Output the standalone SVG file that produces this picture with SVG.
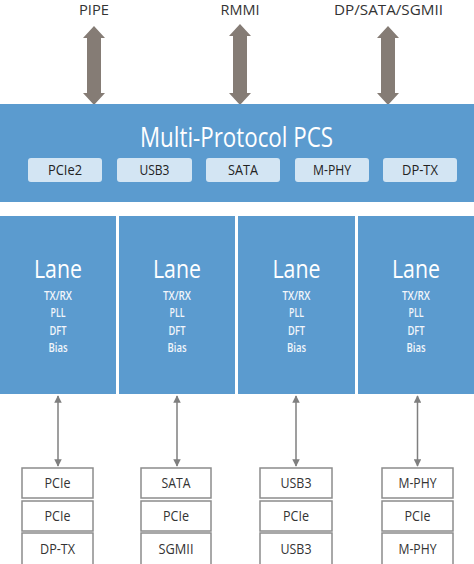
<svg xmlns="http://www.w3.org/2000/svg" width="474" height="564" viewBox="0 0 474 564">
<style>
.blue{fill:#5b9bcf}
.sub{fill:#d3e5f3}
.box{fill:#fff;stroke:#8c8c8c;stroke-width:1.5}
.t{font-family:"Open Sans","Noto Sans","Liberation Sans",sans-serif;text-anchor:middle}
.top{font-size:14px;fill:#333}
.title{font-size:27px;fill:#fff}
.st{font-size:14px;fill:#222}
.lane{font-size:26px;fill:#fff}
.ll{font-size:12.5px;fill:#f2f6fb;font-weight:600}
.bt{font-size:15px;fill:#333}
.thin{stroke:#7f7f7f;stroke-width:1.5;fill:none;marker-start:url(#ah);marker-end:url(#ah)}
.big{fill:#857c75}
</style>
<defs>
<marker id="ah" viewBox="0 0 10 10" refX="9" refY="5" markerWidth="5" markerHeight="5" orient="auto-start-reverse" markerUnits="strokeWidth">
<path d="M0,0 L10,5 L0,10 Z" fill="#7f7f7f"/>
</marker>
</defs>

<g id="labels">
<text class="t top" x="94" y="15" textLength="30" lengthAdjust="spacingAndGlyphs">PIPE</text>
<text class="t top" x="240" y="15" textLength="39" lengthAdjust="spacingAndGlyphs">RMMI</text>
<text class="t top" x="388.5" y="15" textLength="109" lengthAdjust="spacingAndGlyphs">DP/SATA/SGMII</text>
</g>

<g id="connectors">
<polygon class="big" points="94,26 105,38 101,38 101,93 105,93 94,105 83,93 87,93 87,38 83,38"/>
<polygon class="big" points="240,24 251,36 247,36 247,93 251,93 240,105 229,93 233,93 233,36 229,36"/>
<polygon class="big" points="388,26 399,38 395,38 395,93 399,93 388,105 377,93 381,93 381,38 377,38"/>
<line class="thin" x1="58" y1="396" x2="58" y2="466"/>
<line class="thin" x1="177" y1="396" x2="177" y2="466"/>
<line class="thin" x1="296" y1="396" x2="296" y2="466"/>
<line class="thin" x1="417.5" y1="396" x2="417.5" y2="466"/>
</g>

<g id="pcs">
<rect class="blue" x="0" y="104" width="474" height="98"/>
<text class="t title" x="236.5" y="147" textLength="193" lengthAdjust="spacingAndGlyphs">Multi-Protocol PCS</text>
<rect class="sub" x="28" y="158" width="74" height="24" rx="3"/>
<text class="t st" x="65" y="175" textLength="34" lengthAdjust="spacingAndGlyphs">PCIe2</text>
<rect class="sub" x="117" y="158" width="75" height="24" rx="3"/>
<text class="t st" x="154.5" y="175" textLength="30" lengthAdjust="spacingAndGlyphs">USB3</text>
<rect class="sub" x="206" y="158" width="74" height="24" rx="3"/>
<text class="t st" x="243" y="175" textLength="30" lengthAdjust="spacingAndGlyphs">SATA</text>
<rect class="sub" x="295" y="158" width="74" height="24" rx="3"/>
<text class="t st" x="332" y="175" textLength="38" lengthAdjust="spacingAndGlyphs">M-PHY</text>
<rect class="sub" x="383" y="158" width="74" height="24" rx="3"/>
<text class="t st" x="420" y="175" textLength="36" lengthAdjust="spacingAndGlyphs">DP-TX</text>
</g>

<g id="lane1">
<rect class="blue" x="0" y="216" width="116" height="178"/>
<text class="t lane" x="58" y="278" textLength="48" lengthAdjust="spacingAndGlyphs">Lane</text>
<text class="t ll" x="58" y="300" textLength="28" lengthAdjust="spacingAndGlyphs">TX/RX</text>
<text class="t ll" x="58" y="317" textLength="15" lengthAdjust="spacingAndGlyphs">PLL</text>
<text class="t ll" x="58" y="335" textLength="17" lengthAdjust="spacingAndGlyphs">DFT</text>
<text class="t ll" x="58" y="352" textLength="19" lengthAdjust="spacingAndGlyphs">Bias</text>
</g>
<g id="lane2">
<rect class="blue" x="119" y="216" width="116" height="178"/>
<text class="t lane" x="177" y="278" textLength="48" lengthAdjust="spacingAndGlyphs">Lane</text>
<text class="t ll" x="177" y="300" textLength="28" lengthAdjust="spacingAndGlyphs">TX/RX</text>
<text class="t ll" x="177" y="317" textLength="15" lengthAdjust="spacingAndGlyphs">PLL</text>
<text class="t ll" x="177" y="335" textLength="17" lengthAdjust="spacingAndGlyphs">DFT</text>
<text class="t ll" x="177" y="352" textLength="19" lengthAdjust="spacingAndGlyphs">Bias</text>
</g>
<g id="lane3">
<rect class="blue" x="238" y="216" width="117" height="178"/>
<text class="t lane" x="296.5" y="278" textLength="48" lengthAdjust="spacingAndGlyphs">Lane</text>
<text class="t ll" x="296.5" y="300" textLength="28" lengthAdjust="spacingAndGlyphs">TX/RX</text>
<text class="t ll" x="296.5" y="317" textLength="15" lengthAdjust="spacingAndGlyphs">PLL</text>
<text class="t ll" x="296.5" y="335" textLength="17" lengthAdjust="spacingAndGlyphs">DFT</text>
<text class="t ll" x="296.5" y="352" textLength="19" lengthAdjust="spacingAndGlyphs">Bias</text>
</g>
<g id="lane4">
<rect class="blue" x="358" y="216" width="116" height="178"/>
<text class="t lane" x="416" y="278" textLength="48" lengthAdjust="spacingAndGlyphs">Lane</text>
<text class="t ll" x="416" y="300" textLength="28" lengthAdjust="spacingAndGlyphs">TX/RX</text>
<text class="t ll" x="416" y="317" textLength="15" lengthAdjust="spacingAndGlyphs">PLL</text>
<text class="t ll" x="416" y="335" textLength="17" lengthAdjust="spacingAndGlyphs">DFT</text>
<text class="t ll" x="416" y="352" textLength="19" lengthAdjust="spacingAndGlyphs">Bias</text>
</g>

<g id="stack1">
<rect class="box" x="22" y="468" width="71" height="30"/>
<text class="t bt" x="57.5" y="488" textLength="26" lengthAdjust="spacingAndGlyphs">PCIe</text>
<rect class="box" x="22" y="501" width="71" height="30"/>
<text class="t bt" x="57.5" y="521" textLength="26" lengthAdjust="spacingAndGlyphs">PCIe</text>
<rect class="box" x="22" y="533" width="71" height="33"/>
<text class="t bt" x="57.5" y="554" textLength="35" lengthAdjust="spacingAndGlyphs">DP-TX</text>
</g>
<g id="stack2">
<rect class="box" x="141" y="468" width="70" height="30"/>
<text class="t bt" x="176" y="488" textLength="29" lengthAdjust="spacingAndGlyphs">SATA</text>
<rect class="box" x="141" y="501" width="70" height="30"/>
<text class="t bt" x="176" y="521" textLength="26" lengthAdjust="spacingAndGlyphs">PCIe</text>
<rect class="box" x="141" y="533" width="70" height="33"/>
<text class="t bt" x="176" y="554" textLength="35" lengthAdjust="spacingAndGlyphs">SGMII</text>
</g>
<g id="stack3">
<rect class="box" x="260" y="468" width="72" height="30"/>
<text class="t bt" x="296" y="488" textLength="31" lengthAdjust="spacingAndGlyphs">USB3</text>
<rect class="box" x="260" y="501" width="72" height="30"/>
<text class="t bt" x="296" y="521" textLength="26" lengthAdjust="spacingAndGlyphs">PCIe</text>
<rect class="box" x="260" y="533" width="72" height="33"/>
<text class="t bt" x="296" y="554" textLength="31" lengthAdjust="spacingAndGlyphs">USB3</text>
</g>
<g id="stack4">
<rect class="box" x="382" y="468" width="71" height="30"/>
<text class="t bt" x="417.5" y="488" textLength="38" lengthAdjust="spacingAndGlyphs">M-PHY</text>
<rect class="box" x="382" y="501" width="71" height="30"/>
<text class="t bt" x="417.5" y="521" textLength="26" lengthAdjust="spacingAndGlyphs">PCIe</text>
<rect class="box" x="382" y="533" width="71" height="33"/>
<text class="t bt" x="417.5" y="554" textLength="38" lengthAdjust="spacingAndGlyphs">M-PHY</text>
</g>
</svg>
